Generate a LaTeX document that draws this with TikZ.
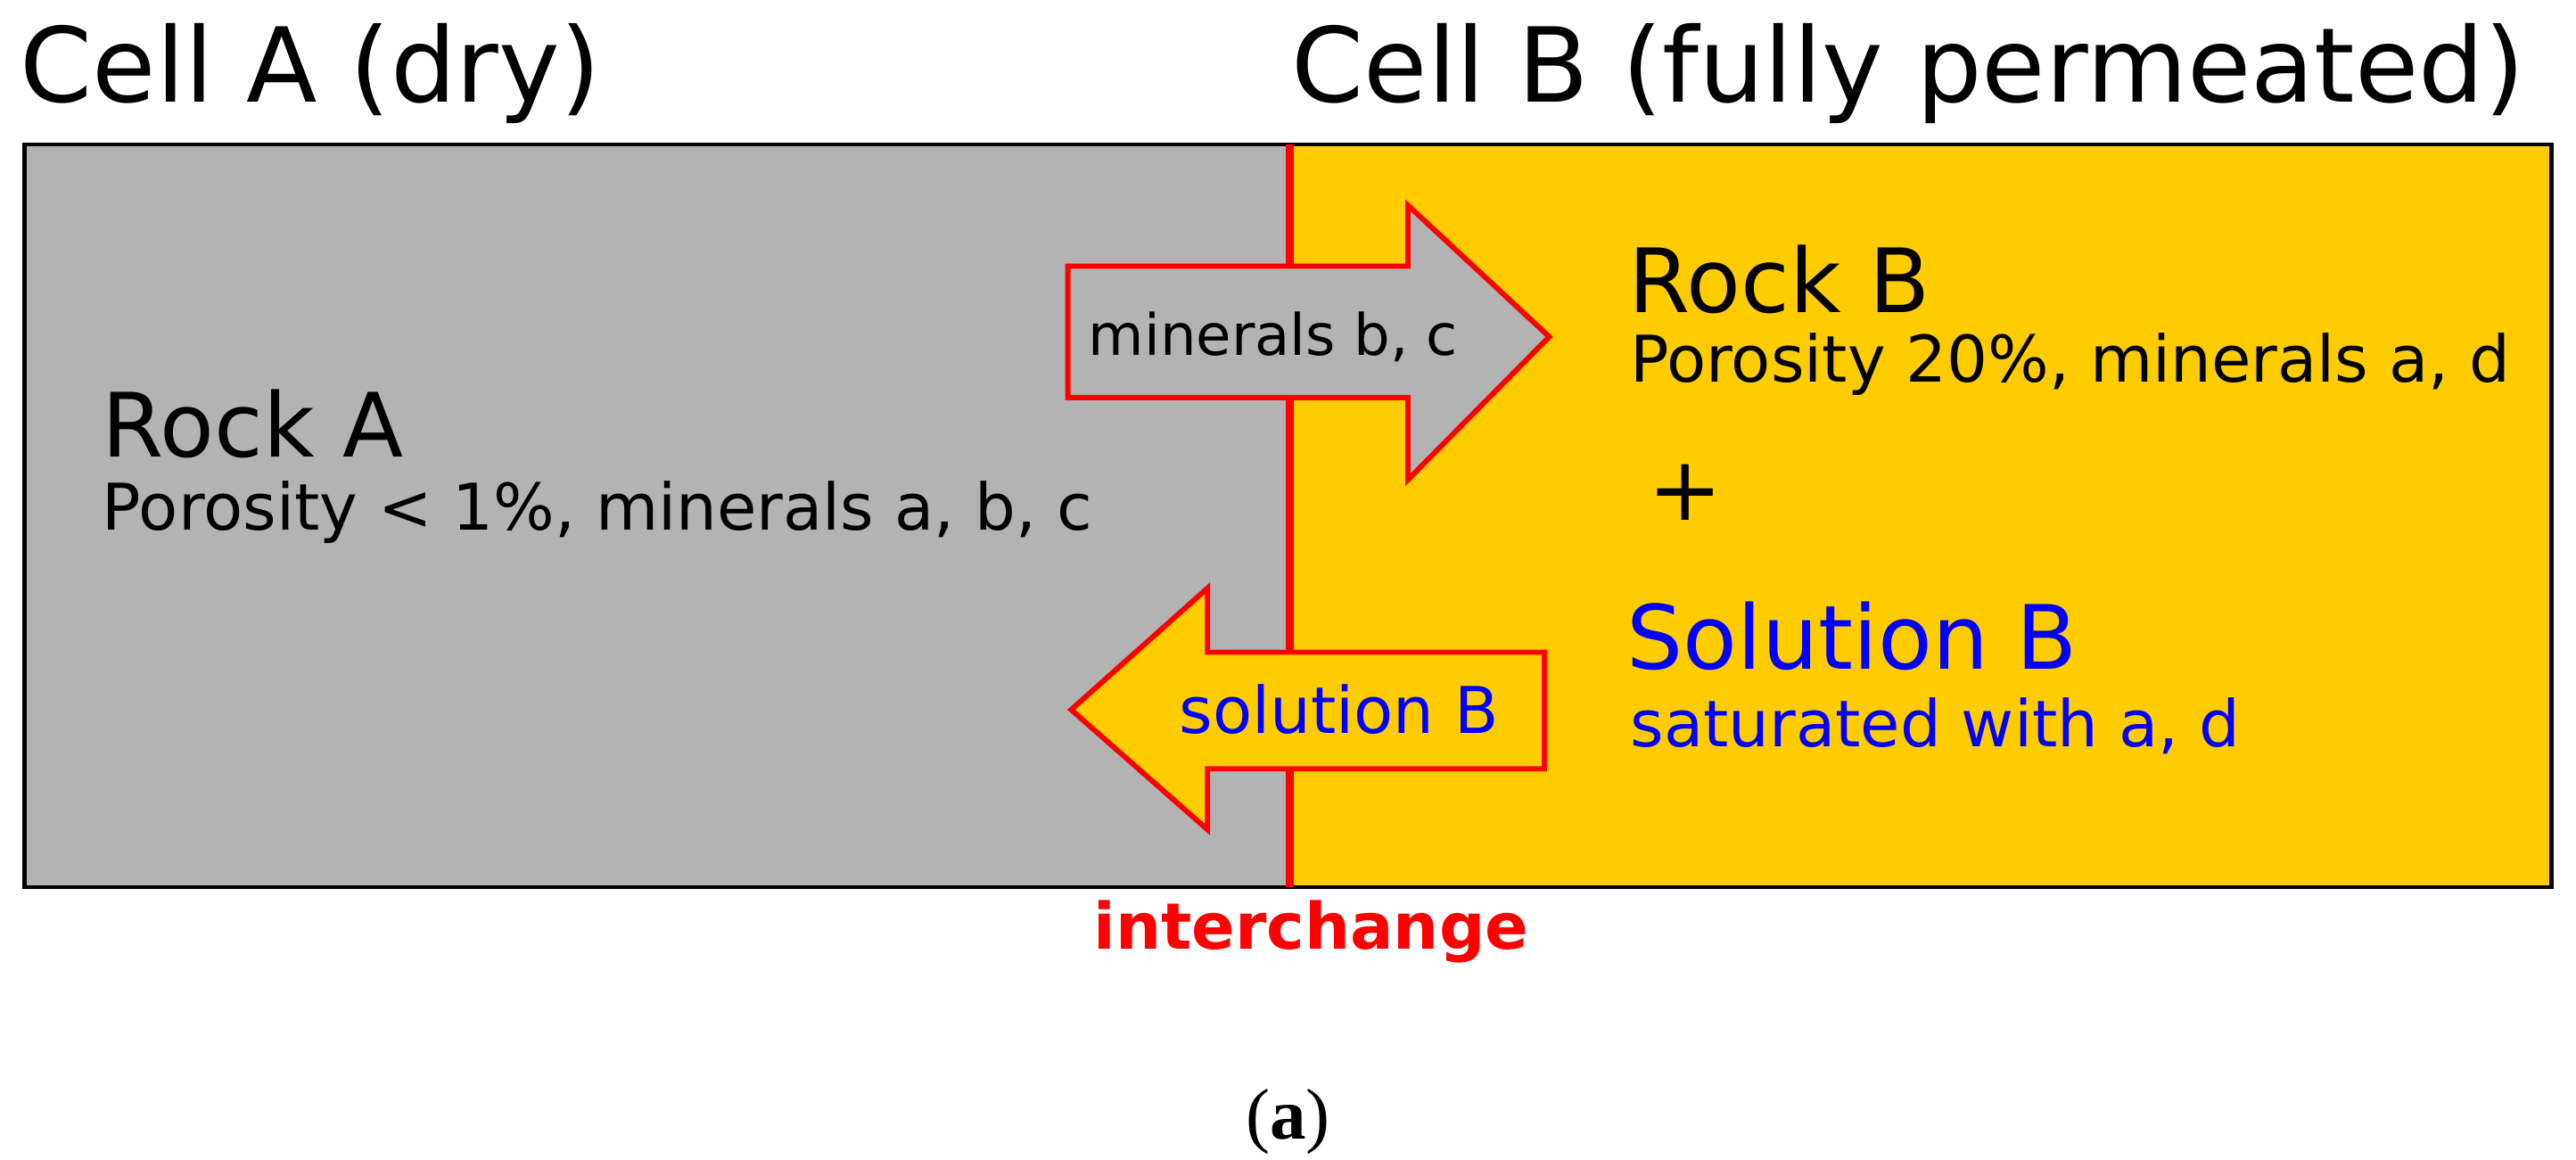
\documentclass[tikz,border=0pt]{standalone}
\usepackage{fontspec}
\setmainfont{DejaVu Sans}
\newfontfamily\serifb{Liberation Serif}
\definecolor{rgray}{HTML}{B3B3B3}
\definecolor{ryel}{HTML}{FFCC00}
\begin{document}
\begin{tikzpicture}[x=0.5pt,y=-0.5pt,
  big/.style={font=\fontsize{31.5}{34}\selectfont,inner sep=0,anchor=west},
  mid/.style={font=\fontsize{27}{30}\selectfont,inner sep=0,anchor=west},
  sml/.style={font=\fontsize{19.6}{22}\selectfont,inner sep=0,anchor=west},
  arr/.style={draw=red,line width=1.6pt,line join=miter}]
\useasboundingbox (0,0) rectangle (1568,706);
\fill[rgray] (15,88) rectangle (785,540);
\fill[ryel] (785,88) rectangle (1553,540);
\draw[line width=1.2pt] (15,88) rectangle (1553,540);
\draw[red,line width=2.5pt] (785,88) -- (785,540);
\filldraw[arr,fill=rgray] (650,162) -- (857,162) -- (857,125) -- (943,205) -- (857,292) -- (857,242) -- (650,242) -- cycle;
\filldraw[arr,fill=ryel] (940,397) -- (735,397) -- (735,358) -- (652,432) -- (735,505) -- (735,468) -- (940,468) -- cycle;
\node[big] (ca) at (12,45) {Cell A (dry)};
\node[big] (cb) at (786,45) {Cell B (fully permeated)};
\node[mid] (ra) at (62,258) {Rock A};
\node[sml] (pa) at (62,312) {Porosity < 1\%, minerals a, b, c};
\node[mid] (rb) at (991,170) {Rock B};
\node[sml] (pb) at (992,222) {Porosity 20\%, minerals a, d};
\node[mid] (pl) at (1003,300) {+};
\node[mid,text=blue] (sb) at (990,387) {Solution B};
\node[sml,text=blue] (sat) at (992,442) {saturated with a, d};
\node[sml,anchor=center,font=\fontsize{17.4}{20}\selectfont] (mbc) at (775,205) {minerals b, c};
\node[sml,anchor=center,text=blue] (slb) at (815,432) {solution B};
\node[font=\fontsize{19.5}{22}\selectfont\bfseries,text=red,inner sep=0] (ic) at (798,567) {interchange};
\node[font=\fontsize{22}{24}\selectfont\serifb,inner sep=0] (lab) at (784,683) {(\textbf{a})};
\end{tikzpicture}
\end{document}
